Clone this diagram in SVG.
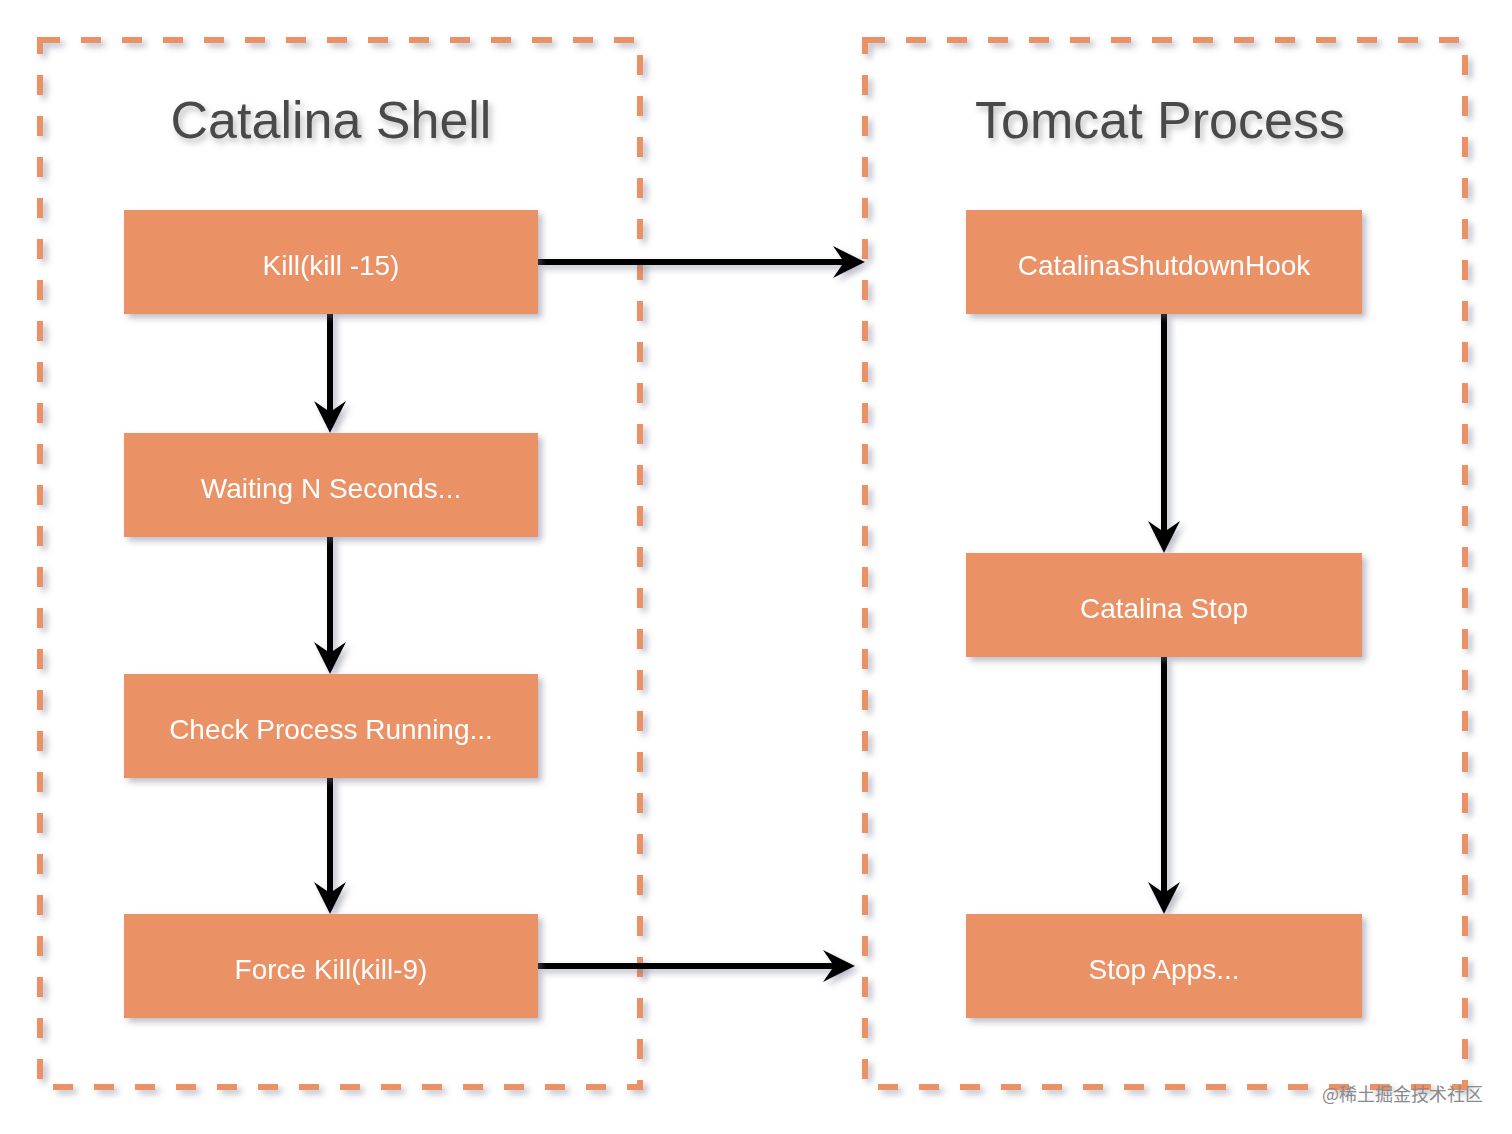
<svg xmlns="http://www.w3.org/2000/svg" width="1512" height="1134" viewBox="0 0 1512 1134">
<style>
.frame{fill:none;stroke:#EA9166;stroke-width:6;stroke-dasharray:20 21;}
.node rect{fill:#EA9166;}
.node text{fill:#FFFFFF;font-family:"Liberation Sans","Open Sans",sans-serif;font-size:28px;text-anchor:middle;}
.title{fill:#4A4A4A;font-family:"Liberation Sans","Open Sans",sans-serif;font-size:52px;text-anchor:middle;}
.conn{fill:none;stroke:#000000;stroke-width:6;marker-end:url(#arrow);}
.wm{fill:#8A8A8A;font-family:"Noto Sans CJK SC","Liberation Sans",sans-serif;font-size:18px;}
</style>
<defs>
<filter id="shadow" x="-10%" y="-10%" width="130%" height="130%">
<feDropShadow dx="4" dy="4" stdDeviation="3" flood-color="#6A6F8A" flood-opacity="0.45"/>
</filter>
<filter id="tshadow" x="-10%" y="-20%" width="130%" height="150%">
<feDropShadow dx="3" dy="4" stdDeviation="3" flood-color="#777777" flood-opacity="0.5"/>
</filter>
<marker id="arrow" markerUnits="userSpaceOnUse" viewBox="-33 -17 35 34" markerWidth="35" markerHeight="34" refX="-10" refY="0" orient="auto" overflow="visible">
<path d="M0,0 L-32,-16 L-21,0 L-32,16 Z" fill="#000000"/>
</marker>
</defs>
<rect width="1512" height="1134" fill="#FFFFFF"/>
<g id="frames" filter="url(#shadow)">
<rect id="catalina-shell-frame" class="frame" x="40" y="40" width="600" height="1047"/>
<rect id="tomcat-process-frame" class="frame" x="865" y="40" width="600" height="1047"/>
</g>
<g id="titles" filter="url(#tshadow)">
<text class="title" x="331" y="138">Catalina Shell</text>
<text class="title" x="1160" y="138">Tomcat Process</text>
</g>
<g id="connectors" filter="url(#shadow)">
<path class="conn" d="M538,262 H855"/>
<path class="conn" d="M330,314 V423"/>
<path class="conn" d="M330,537 V664"/>
<path class="conn" d="M330,778 V904"/>
<path class="conn" d="M538,966 H845"/>
<path class="conn" d="M1164,314 V543"/>
<path class="conn" d="M1164,657 V904"/>
</g>
<g id="node-kill" class="node" filter="url(#shadow)">
<rect x="124" y="210" width="414" height="104"/>
<text x="331" y="275">Kill(kill -15)</text>
</g>
<g id="node-waiting" class="node" filter="url(#shadow)">
<rect x="124" y="433" width="414" height="104"/>
<text x="331" y="498">Waiting N Seconds...</text>
</g>
<g id="node-check" class="node" filter="url(#shadow)">
<rect x="124" y="674" width="414" height="104"/>
<text x="331" y="739">Check Process Running...</text>
</g>
<g id="node-force" class="node" filter="url(#shadow)">
<rect x="124" y="914" width="414" height="104"/>
<text x="331" y="979">Force Kill(kill-9)</text>
</g>
<g id="node-hook" class="node" filter="url(#shadow)">
<rect x="966" y="210" width="396" height="104"/>
<text x="1164" y="275">CatalinaShutdownHook</text>
</g>
<g id="node-stop" class="node" filter="url(#shadow)">
<rect x="966" y="553" width="396" height="104"/>
<text x="1164" y="618">Catalina Stop</text>
</g>
<g id="node-apps" class="node" filter="url(#shadow)">
<rect x="966" y="914" width="396" height="104"/>
<text x="1164" y="979">Stop Apps...</text>
</g>
<text class="wm" x="1322" y="1101">@稀土掘金技术社区</text>
</svg>
